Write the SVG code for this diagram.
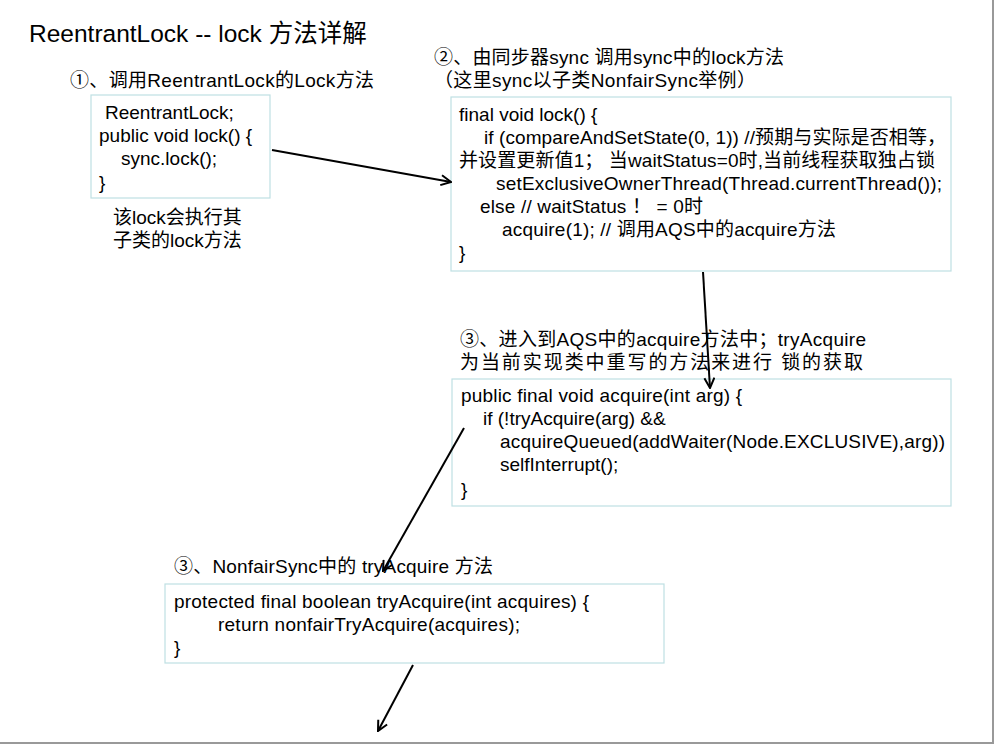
<svg xmlns="http://www.w3.org/2000/svg" width="998" height="747" viewBox="0 0 998 747">
<style>
text{font-family:"Liberation Sans","Noto Sans CJK SC",sans-serif;font-size:19px;fill:#000}
.box{fill:#fff;stroke:#bfdfe3;stroke-width:1.2}
.c{stroke:#000;stroke-width:2;fill:none;marker-end:url(#a)}
</style>
<defs><marker id="a" viewBox="0 0 12 12" refX="11" refY="6" markerWidth="12" markerHeight="12" markerUnits="userSpaceOnUse" orient="auto"><path d="M1,1 L11,6 L1,11" fill="none" stroke="#000" stroke-width="2"/></marker></defs>
<rect width="998" height="747" fill="#fff"/>
<path d="M993,0V743H0" fill="none" stroke="#999" stroke-width="2"/>
<text x="29" y="42" style="font-size:24.5px">ReentrantLock -- lock 方法详解</text>
<g id="n1">
<text x="70" y="87" textLength="304">①、调用ReentrantLock的Lock方法</text>
<rect class="box" x="91" y="95" width="179" height="103"/>
<text x="105" y="119">ReentrantLock;</text>
<text x="99" y="142">public void lock() {</text>
<text x="121" y="165">sync.lock();</text>
<text x="99" y="189">}</text>
<text x="113" y="224">该lock会执行其</text>
<text x="113" y="247">子类的lock方法</text>
</g>
<g id="n2">
<text x="434" y="64" textLength="350">②、由同步器sync 调用sync中的lock方法</text>
<text x="434" y="87" textLength="322">（这里sync以子类NonfairSync举例）</text>
<rect class="box" x="451" y="97" width="500" height="174"/>
<text x="459" y="121">final void lock() {</text>
<text x="484" y="144" textLength="462">if (compareAndSetState(0, 1))  //预期与实际是否相等，</text>
<text x="459" y="167" textLength="476">并设置更新值1； 当waitStatus=0时,当前线程获取独占锁</text>
<text x="496" y="190" textLength="446">setExclusiveOwnerThread(Thread.currentThread());</text>
<text x="480" y="213" textLength="223">else  // waitStatus ！ = 0时</text>
<text x="502" y="236" textLength="334">acquire(1); // 调用AQS中的acquire方法</text>
<text x="459" y="259">}</text>
</g>
<g id="n3">
<text x="460" y="346" textLength="406">③、进入到AQS中的acquire方法中；tryAcquire</text>
<text x="460" y="369" textLength="403">为当前实现类中重写的方法来进行 锁的获取</text>
<rect class="box" x="452" y="379" width="499" height="127"/>
<text x="461" y="402" textLength="281">public final void acquire(int arg) {</text>
<text x="483" y="425">if (!tryAcquire(arg) &amp;&amp;</text>
<text x="500" y="448" textLength="445">acquireQueued(addWaiter(Node.EXCLUSIVE),arg))</text>
<text x="500" y="471">selfInterrupt();</text>
<text x="461" y="496">}</text>
</g>
<g id="n4">
<text x="174" y="573" textLength="319">③、NonfairSync中的 tryAcquire 方法</text>
<rect class="box" x="165" y="584" width="499" height="79"/>
<text x="174" y="608" textLength="415">protected final boolean tryAcquire(int acquires) {</text>
<text x="218" y="631" textLength="302">return nonfairTryAcquire(acquires);</text>
<text x="174" y="654">}</text>
</g>
<g id="connectors">
<path class="c" d="M272,150L451,182"/>
<path class="c" d="M703,272L710,388"/>
<path class="c" d="M464,428L383,571"/>
<path class="c" d="M413,665L378,731"/>
</g>
</svg>
